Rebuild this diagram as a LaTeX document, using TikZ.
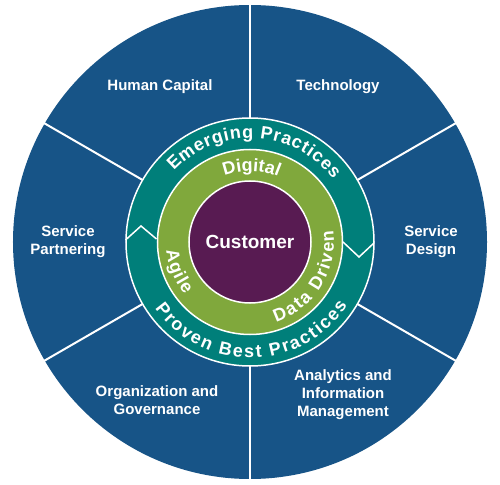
\documentclass[tikz,border=0pt]{standalone}
\usepackage{fontspec}
\setmainfont{Liberation Sans}
\usetikzlibrary{decorations.text}
\definecolor{outerblue}{HTML}{175487}
\definecolor{ringteal}{HTML}{007F7A}
\definecolor{ringgreen}{HTML}{80A83C}
\definecolor{corepurple}{HTML}{581B52}
\newcommand\ringfont{\bfseries\fontsize{18}{18}\selectfont}
\begin{document}
\begin{tikzpicture}[x=1pt,y=1pt,
  lbl/.style={text=white, font=\bfseries\fontsize{15}{18}\selectfont, align=center, inner sep=0pt},
  sepline/.style={draw=white, line width=2pt},
  ringedge/.style={draw=white, line width=1.5pt},
  zig/.style={draw=white, line width=1.5pt, line join=miter},
  ringtext/.style={font=\ringfont, decorate, decoration={text along path, text align={fit to path}, text color=white, text={|\ringfont|#1}}}]
\useasboundingbox (-250,-242) rectangle (250,242);
\fill[white] (-250,-242) rectangle (250,242);
\coordinate (c) at (0,0);
% outer blue disc and sector dividers
\fill[outerblue] (c) circle[radius=237pt];
\foreach \a in {30,90,...,330} \draw[sepline] (\a:124pt) -- (\a:238pt);
% rings
\filldraw[fill=ringteal, ringedge] (c) circle[radius=124pt];
\filldraw[fill=ringgreen, ringedge] (c) circle[radius=92.5pt];
\filldraw[fill=corepurple, ringedge] (c) circle[radius=61pt];
% zigzags in teal ring
\coordinate (zl1) at (-124.5,2);
\coordinate (zl2) at (-109,16);
\coordinate (zl3) at (-93.5,3);
\coordinate (zr1) at (93,0);
\coordinate (zr2) at (109,-15);
\coordinate (zr3) at (124,-1);
\draw[zig] (zl1) -- (zl2) -- (zl3);
\draw[zig] (zr1) -- (zr2) -- (zr3);
% curved ring texts
\path[ringtext={Emerging Practices}] (137:104pt) arc[start angle=137, end angle=37, radius=104pt];
\path[ringtext={Proven Best Practices}] (215:116pt) arc[start angle=215, end angle=327, radius=116pt];
\path[ringtext={Digital}] (111:71pt) arc[start angle=111, end angle=67, radius=71pt];
\path[ringtext={Agile}] (186:84pt) arc[start angle=186, end angle=219, radius=84pt];
\path[ringtext={Data Driven}] (288:84pt) arc[start angle=288, end angle=368, radius=84pt];
% centre
\node[lbl, font=\bfseries\fontsize{19}{22}\selectfont] (customer) at (0,0) {Customer};
% sector labels
\node[lbl] (human) at (-90,155) {Human Capital};
\node[lbl] (tech) at (88,155) {Technology};
\node[lbl] (sdesign) at (181,0) {Service\\Design};
\node[lbl] (spartner) at (-182,0) {Service\\Partnering};
\node[lbl] (org) at (-93,-158) {Organization and\\Governance};
\node[lbl] (analytics) at (93,-152.5) {Analytics and\\Information\\Management};
\end{tikzpicture}
\end{document}
